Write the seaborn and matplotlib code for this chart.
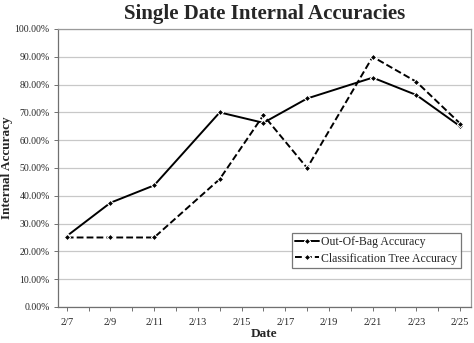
import matplotlib
matplotlib.use("Agg")
import matplotlib.pyplot as plt
import seaborn as sns
import pandas as pd
from matplotlib.ticker import PercentFormatter, FixedLocator, MultipleLocator

dates = ["2/7", "2/9", "2/11", "2/14", "2/16", "2/18", "2/21", "2/23", "2/25"]
oob_acc = [0.255, 0.375, 0.4375, 0.70, 0.6625, 0.75, 0.825, 0.7625, 0.65]
tree_acc = [0.25, 0.25, 0.25, 0.46, 0.69, 0.50, 0.90, 0.81, 0.66]
tick_labels = ["2/7", "2/9", "2/11", "2/13", "2/15", "2/17", "2/19", "2/21", "2/23", "2/25"]
series_names = ["Out-Of-Bag Accuracy", "Classification Tree Accuracy"]

def day(s):
    return int(s.split("/")[1])

df = pd.DataFrame({
    "day": [day(d) for d in dates] * 2,
    "acc": oob_acc + tree_acc,
    "series": [series_names[0]] * len(dates) + [series_names[1]] * len(dates),
})

sns.set_style("white")
plt.rcParams["font.family"] = ["Liberation Serif", "DejaVu Serif"]

fig = plt.figure(figsize=(4.74, 3.43), dpi=100)
ax = fig.add_axes([0.1224, 0.105, 0.8713, 0.8105])

sns.lineplot(data=df, x="day", y="acc", hue="series", style="series",
             palette=["black", "black"], dashes=[(None, None), (3.5, 1.6)],
             markers=["D", "D"], markersize=3.2, linewidth=1.4, ax=ax,
             legend=True)

ax.set_ylim(0, 1.0)
ax.set_xlim(6.6, 25.5)
ax.yaxis.set_major_locator(MultipleLocator(0.1))
ax.yaxis.set_major_formatter(PercentFormatter(xmax=1.0, decimals=2))
ax.set_xticks([day(t) for t in tick_labels])
ax.set_xticklabels(tick_labels)
ax.xaxis.set_minor_locator(FixedLocator(list(range(6, 26))))
ax.grid(axis="y", color="#c8c8c8", linewidth=0.9)
ax.set_axisbelow(True)

for s in ["top", "right"]:
    ax.spines[s].set_color("#9a9a9a")
    ax.spines[s].set_linewidth(0.9)
for s in ["left", "bottom"]:
    ax.spines[s].set_color("#707070")
    ax.spines[s].set_linewidth(0.9)

ax.tick_params(axis="both", which="major", labelsize=7, length=3, width=0.7,
               color="#707070", direction="out", pad=3, bottom=True, left=True)
ax.tick_params(axis="x", which="minor", length=3, width=0.7, color="#707070",
               direction="out", bottom=True)
ax.tick_params(axis="x", pad=5, labelsize=7.5)

ax.set_xlabel("Date", fontsize=9.5, fontweight="bold", labelpad=1)
ax.set_ylabel("Internal Accuracy", fontsize=9.5, fontweight="bold")
ax.yaxis.set_label_coords(-0.108, 0.5)
ax.set_title("Single Date Internal Accuracies", fontsize=15, fontweight="bold",
             pad=7)

leg = ax.legend(loc="lower right", bbox_to_anchor=(0.975, 0.14), fontsize=8.5,
                frameon=True, fancybox=False, edgecolor="#555555",
                handlelength=2.0, handletextpad=0.2, borderpad=0.3,
                labelspacing=0.35, borderaxespad=0)
leg.get_frame().set_linewidth(0.9)

fig.savefig("out.png", dpi=100)
